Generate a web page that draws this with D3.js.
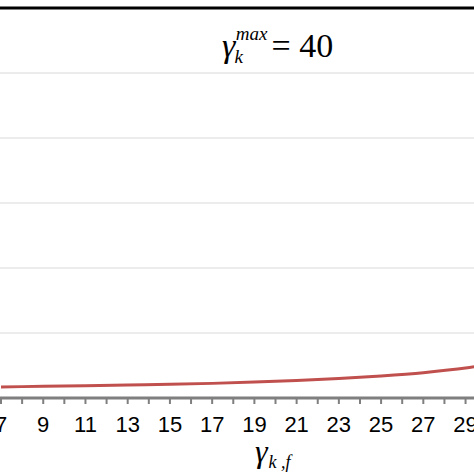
<!DOCTYPE html>
<html><head><meta charset="utf-8">
<script src="https://cdn.jsdelivr.net/npm/d3@7"></script>
<style>body{margin:0;background:#fff}</style>
</head><body>
<svg id="c" width="474" height="474"></svg>
<script>
var xs = [7, 9, 11, 13, 15, 17, 19, 21, 23, 25, 27, 29, 30]
var ys = [0.17, 0.18, 0.19, 0.2, 0.21, 0.225, 0.245, 0.27, 0.3, 0.34, 0.39, 0.46, 0.51]
var tickVals = d3.range(7, 31, 2)
var gridVals = [1, 2, 3, 4, 5, 6]

var svg = d3.select('#c')
var x = d3.scaleLinear().domain([7, 29.4]).range([1, 474])
var y = d3.scaleLinear().domain([0, 6]).range([398, 8])

svg.selectAll('.grid').data(gridVals).enter().append('line')
  .attr('x1', 0).attr('x2', 474)
  .attr('y1', function (d) { return y(d) }).attr('y2', function (d) { return y(d) })
  .attr('stroke', function (d) { return d == 6 ? '#000' : '#e6e6e6' })
  .attr('stroke-width', function (d) { return d == 6 ? 3 : 1.5 })

svg.append('path').datum(xs.map(function (d, i) { return [d, ys[i]] }))
  .attr('d', d3.line().x(function (d) { return x(d[0]) }).y(function (d) { return y(d[1]) }).curve(d3.curveMonotoneX))
  .attr('fill', 'none').attr('stroke', '#c0504d').attr('stroke-width', 3)

svg.selectAll('.tk').data(d3.range(6, 31)).enter().append('line')
  .attr('x1', function (d) { return x(d) }).attr('x2', function (d) { return x(d) })
  .attr('y1', 398).attr('y2', 404).attr('stroke', '#7f7f7f').attr('stroke-width', 2)
svg.append('line').attr('x1', 0).attr('x2', 474).attr('y1', 398).attr('y2', 398)
  .attr('stroke', '#7f7f7f').attr('stroke-width', 3)

svg.selectAll('.lab').data(tickVals).enter().append('text')
  .attr('x', function (d) { return x(d) }).attr('y', 432)
  .attr('text-anchor', 'middle').attr('font-family', 'Liberation Sans, Arial').attr('font-size', 22)
  .text(function (d) { return d })

var t = svg.append('text').attr('x', 222).attr('y', 57).attr('font-family', 'Liberation Serif, Times New Roman').attr('font-size', 34)
t.append('tspan').attr('font-style', 'italic').text('γ')
t.append('tspan').attr('font-style', 'italic').attr('font-size', 19).attr('dy', 6).attr('dx', -1).text('k')
t.append('tspan').attr('font-style', 'italic').attr('font-size', 19).attr('dy', -23).attr('dx', -7).text('max')
t.append('tspan').attr('dy', 17).attr('dx', 4).text('= 40')

var a = svg.append('text').attr('x', 255).attr('y', 462).attr('font-family', 'Liberation Serif, Times New Roman').attr('font-style', 'italic').attr('font-size', 32)
a.append('tspan').text('γ')
a.append('tspan').attr('font-size', 18).attr('dy', 6).attr('dx', 1).text('k ,f')
</script>
</body></html>
